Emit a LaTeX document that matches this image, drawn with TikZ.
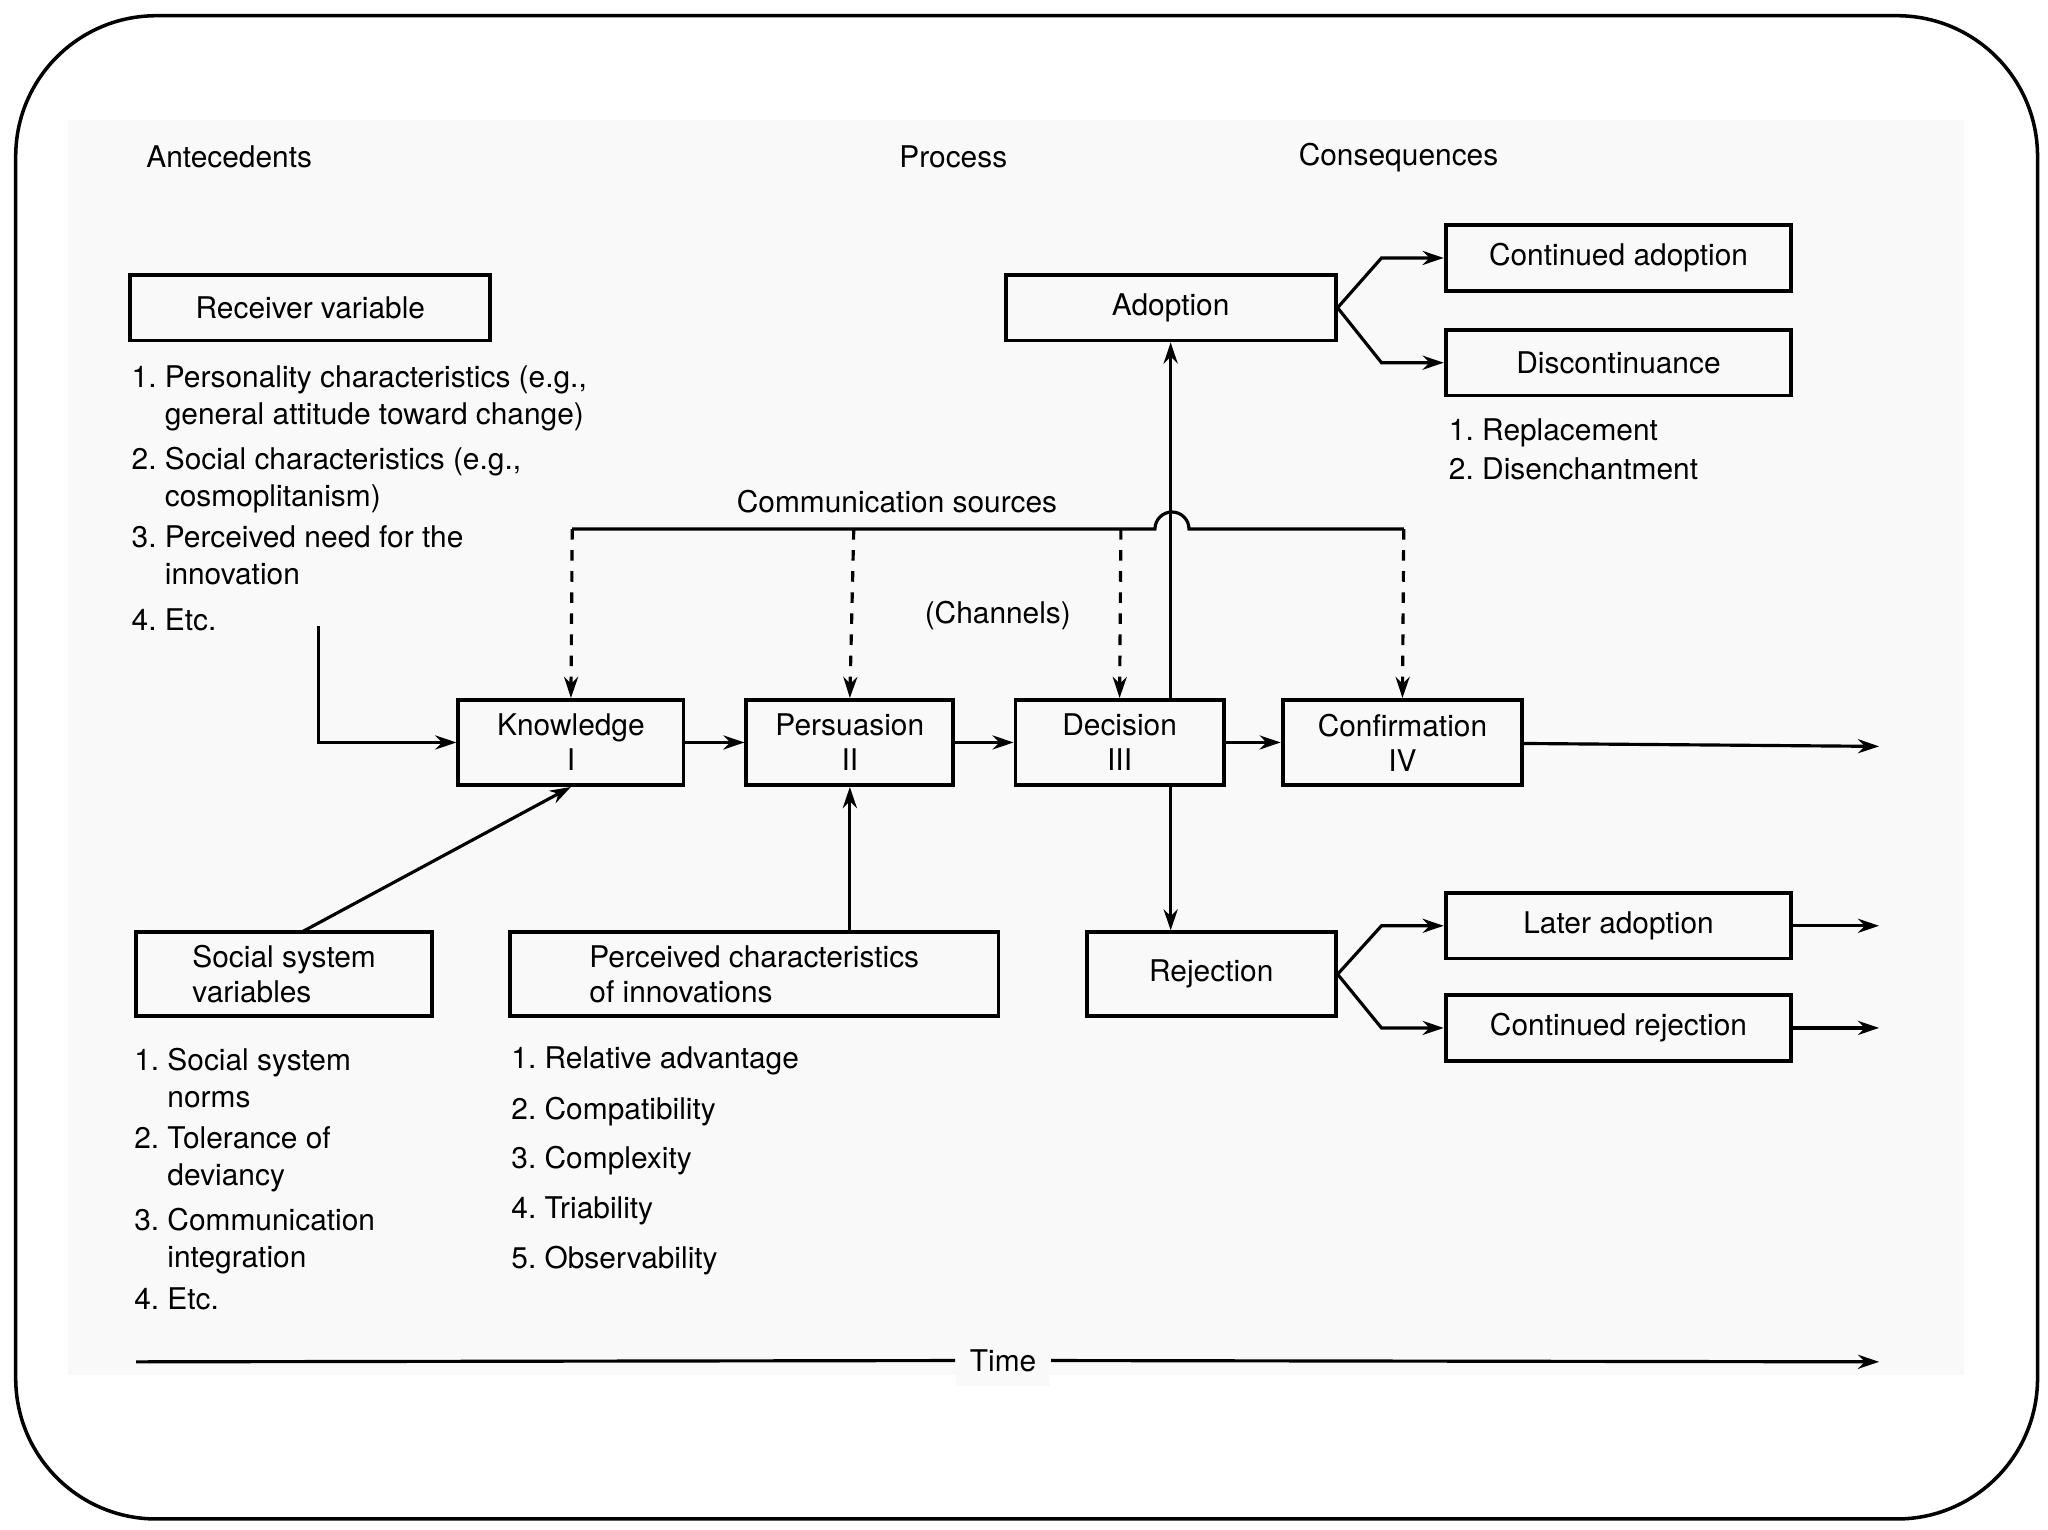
\documentclass[tikz,border=0pt]{standalone}
\usepackage{fontspec}
\setmainfont{TeX Gyre Heros}
\usetikzlibrary{arrows.meta}
\def\pxu{0.013095cm}
\tikzset{
  box/.style={draw,line width=1.1pt,align=center,inner sep=1pt,font=\fontsize{8.5pt}{10pt}\selectfont},
  txt/.style={anchor=north west,align=left,inner sep=0pt,font=\fontsize{8.5pt}{10.5pt}\selectfont},
  flow/.style={line width=0.9pt,-{Stealth[length=6pt,width=4pt]}},
  chan/.style={flow,dashed}
}
\begin{document}
\begin{tikzpicture}[x=\pxu,y=-\pxu]
\useasboundingbox (0,0) rectangle (1564,1168);
\draw[line width=1pt,rounded corners=40] (12,12) rectangle (1556,1160);
\fill[gray!5] (52,92) rectangle (1500,1050);
% headers
\node[txt,anchor=center] (hant) at (175,120) {Antecedents};
\node[txt,anchor=center] (hpro) at (728,120) {Process};
\node[txt,anchor=center] (hcon) at (1068,120) {Consequences};
% antecedents
\node[box,minimum width=275*\pxu,minimum height=50*\pxu] (recv) at (237,235) {Receiver variable};
\node[txt] (r1) at (100,279) {1.~Personality characteristics (e.g.,\\\phantom{1.~}general attitude toward change)};
\node[txt] (r2) at (100,341) {2.~Social characteristics (e.g.,\\\phantom{2.~}cosmoplitanism)};
\node[txt] (r3) at (100,401) {3.~Perceived need for the\\\phantom{3.~}innovation};
\node[txt] (r4) at (100,464) {4.~Etc.};
\coordinate (rstart) at (243,478);
% stages
\node[box,minimum width=172*\pxu,minimum height=65*\pxu] (know) at (436,567) {Knowledge\\I};
\node[box,minimum width=158*\pxu,minimum height=65*\pxu] (pers) at (649,567) {Persuasion\\II};
\node[box,minimum width=159*\pxu,minimum height=65*\pxu] (deci) at (855,567) {Decision\\III};
\node[box,minimum width=183*\pxu,minimum height=65*\pxu] (conf) at (1071,567) {Confirmation\\IV};
\coordinate (cend) at (1435,570);
% consequences
\node[box,minimum width=252*\pxu,minimum height=50*\pxu] (adop) at (894,235) {Adoption};
\node[box,minimum width=264*\pxu,minimum height=50*\pxu] (cont) at (1236,197) {Continued adoption};
\node[box,minimum width=264*\pxu,minimum height=50*\pxu] (disc) at (1236,277) {Discontinuance};
\node[txt] (d1) at (1106,319) {1.~Replacement};
\node[txt] (d2) at (1106,349) {2.~Disenchantment};
\node[box,minimum width=190*\pxu,minimum height=64*\pxu] (reje) at (925,744) {Rejection};
\node[box,minimum width=264*\pxu,minimum height=50*\pxu] (late) at (1236,707) {Later adoption};
\node[box,minimum width=264*\pxu,minimum height=50*\pxu] (crej) at (1236,785) {Continued rejection};
\coordinate (lend) at (1435,707);
\coordinate (crend) at (1435,785);
% communication sources
\node[txt,anchor=center] (comm) at (685,383) {Communication sources};
\node[txt,anchor=center] (chan) at (762,470) {(Channels)};
\draw[line width=0.9pt] (437,404) -- (882,404) arc[start angle=180,end angle=360,radius=13] -- (1072,404);
\draw[chan] (437,404) -- (know.north);
\draw[chan] (652,404) -- (pers.north);
\draw[chan] (856,404) -- (deci.north);
\draw[chan] (1072,404) -- (conf.north);
% social system and characteristics
\node[box,minimum width=226*\pxu,minimum height=64*\pxu,align=left] (soci) at (217,744) {Social system\\variables};
\node[txt] (s1) at (102,800) {1.~Social system\\\phantom{1.~}norms};
\node[txt] (s2) at (102,860) {2.~Tolerance of\\\phantom{2.~}deviancy};
\node[txt] (s3) at (102,922) {3.~Communication\\\phantom{3.~}integration};
\node[txt] (s4) at (102,983) {4.~Etc.};
\node[box,minimum width=373*\pxu,minimum height=64*\pxu,align=left] (perc) at (576,744) {Perceived characteristics\\of innovations};
\node[txt] (p1) at (390,799) {1.~Relative advantage};
\node[txt] (p2) at (390,837) {2.~Compatibility};
\node[txt] (p3) at (390,875) {3.~Complexity};
\node[txt] (p4) at (390,913) {4.~Triability};
\node[txt] (p5) at (390,951) {5.~Observability};
% flows
\draw[flow] (rstart) |- (know.west);
\draw[flow] (know) -- (pers);
\draw[flow] (pers) -- (deci);
\draw[flow] (deci) -- (conf);
\draw[flow] (conf) -- (cend);
\draw[flow] (deci.north -| adop) -- (adop.south);
\draw[flow] (deci.south -| adop) -- (reje.north -| adop);
\draw[flow] (adop.east) -- (1055,197) -- (cont.west);
\draw[flow] (adop.east) -- (1055,277) -- (disc.west);
\draw[flow] (reje.east) -- (1055,707) -- (late.west);
\draw[flow] (reje.east) -- (1055,785) -- (crej.west);
\draw[flow] (late) -- (lend);
\draw[flow] (crej) -- (crend);
\draw[flow] (230,712) -- (know.south);
\draw[flow] (pers.south |- perc.north) -- (pers.south);
% time
\node[txt,anchor=center,fill=gray!5,inner sep=4pt] (time) at (766,1039) {Time};
\coordinate (tstart) at (104,1040);
\coordinate (tend) at (1435,1040);
\draw[line width=0.9pt] (tstart) -- (time.west);
\draw[flow] (time.east) -- (tend);
\end{tikzpicture}
\end{document}
